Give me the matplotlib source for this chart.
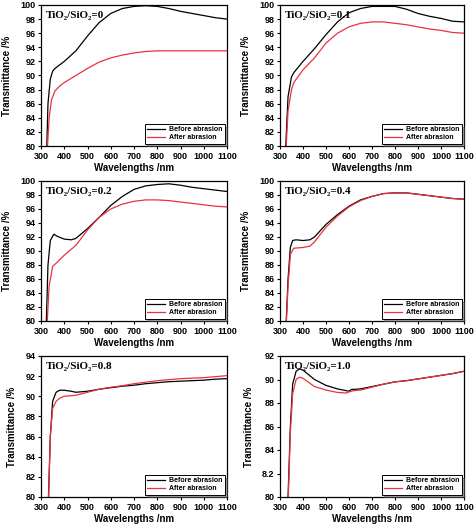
import matplotlib
matplotlib.use('Agg')
import matplotlib.pyplot as plt

plt.rcParams['font.family'] = ['Liberation Sans', 'DejaVu Sans']
plt.rcParams['font.weight'] = 'bold'

# ---- data ----
titles = ['TiO₂/SiO₂=0', 'TiO₂/SiO₂=0.1', 'TiO₂/SiO₂=0.2',
          'TiO₂/SiO₂=0.4', 'TiO₂/SiO₂=0.8', 'TiO₂/SiO₂=1.0']

# 0
wl_b0 = [325, 330, 340, 350, 360, 380, 400, 450, 500, 550, 600, 650, 700, 750, 800, 850, 900, 950, 1000, 1050, 1100]
tb_0 = [80, 86, 89.5, 90.6, 91.0, 91.5, 92.0, 93.5, 95.6, 97.5, 98.8, 99.5, 99.8, 99.9, 99.8, 99.5, 99.1, 98.8, 98.5, 98.2, 98.0]
wl_a0 = [328, 335, 345, 360, 380, 400, 450, 500, 550, 600, 650, 700, 750, 800, 850, 900, 1000, 1100]
ta_0 = [80, 84, 86.5, 87.8, 88.5, 89.0, 90.0, 91.0, 91.9, 92.5, 92.9, 93.2, 93.4, 93.5, 93.5, 93.5, 93.5, 93.5]

# 0.1
wl_b1 = [325, 335, 350, 360, 400, 450, 500, 550, 600, 650, 700, 750, 800, 850, 900, 950, 1000, 1050, 1100]
tb_1 = [80, 87, 89.8, 90.4, 92.0, 93.8, 95.8, 97.6, 98.9, 99.5, 99.8, 99.8, 99.8, 99.4, 98.8, 98.4, 98.1, 97.7, 97.6]
wl_a1 = [327, 335, 350, 360, 400, 450, 500, 550, 600, 650, 700, 750, 800, 850, 900, 950, 1000, 1050, 1100]
ta_1 = [80, 85, 88.0, 89.0, 90.8, 92.5, 94.6, 96.0, 96.9, 97.4, 97.6, 97.6, 97.4, 97.2, 96.9, 96.6, 96.4, 96.1, 96.0]

# 0.2
wl_b2 = [323, 330, 340, 355, 370, 400, 430, 450, 500, 550, 600, 650, 700, 750, 800, 850, 900, 950, 1000, 1050, 1100]
tb_2 = [80, 88, 91.5, 92.4, 92.1, 91.7, 91.6, 91.8, 93.2, 94.8, 96.5, 97.8, 98.8, 99.3, 99.5, 99.6, 99.4, 99.1, 98.9, 98.7, 98.5]
wl_a2 = [327, 335, 350, 370, 400, 450, 500, 550, 600, 650, 700, 750, 800, 850, 900, 950, 1000, 1050, 1100]
ta_2 = [80, 85, 87.8, 88.4, 89.4, 90.8, 93.0, 94.8, 96.0, 96.7, 97.1, 97.3, 97.3, 97.2, 97.0, 96.8, 96.6, 96.4, 96.3]

# 0.4
wl_b4 = [327, 335, 345, 355, 370, 400, 430, 450, 500, 550, 600, 650, 700, 750, 800, 850, 900, 950, 1000, 1050, 1100]
tb_4 = [80, 86, 90.5, 91.5, 91.6, 91.5, 91.6, 92.0, 93.8, 95.2, 96.4, 97.3, 97.8, 98.2, 98.3, 98.3, 98.1, 97.9, 97.7, 97.5, 97.4]
wl_a4 = [328, 335, 345, 360, 400, 430, 450, 500, 550, 600, 650, 700, 750, 800, 850, 900, 950, 1000, 1050, 1100]
ta_4 = [80, 85, 89.5, 90.4, 90.5, 90.7, 91.3, 93.4, 95.0, 96.3, 97.2, 97.8, 98.2, 98.3, 98.3, 98.1, 97.9, 97.7, 97.5, 97.4]

# 0.8
wl_b8 = [332, 340, 350, 365, 380, 400, 430, 450, 500, 550, 600, 650, 700, 750, 800, 850, 900, 950, 1000, 1050, 1100]
tb_8 = [80, 86, 89.5, 90.4, 90.6, 90.6, 90.5, 90.4, 90.5, 90.7, 90.85, 91.0, 91.1, 91.25, 91.35, 91.45, 91.5, 91.55, 91.6, 91.7, 91.75]
wl_a8 = [333, 340, 350, 365, 380, 400, 450, 500, 550, 600, 650, 700, 750, 800, 850, 900, 950, 1000, 1050, 1100]
ta_8 = [80, 86, 88.8, 89.5, 89.8, 90.0, 90.1, 90.4, 90.7, 90.9, 91.05, 91.25, 91.4, 91.55, 91.65, 91.75, 91.8, 91.85, 91.95, 92.05]

# 1.0
wl_b10 = [335, 345, 355, 370, 385, 400, 450, 500, 550, 600, 610, 650, 700, 750, 800, 850, 900, 950, 1000, 1050, 1100]
tb_10 = [80, 86, 89.6, 90.7, 90.9, 90.8, 90.0, 89.5, 89.2, 89.0, 89.15, 89.2, 89.4, 89.6, 89.8, 89.9, 90.05, 90.2, 90.35, 90.5, 90.7]
wl_a10 = [336, 345, 355, 370, 385, 400, 450, 500, 550, 590, 600, 620, 650, 700, 750, 800, 850, 900, 950, 1000, 1050, 1100]
ta_10 = [80, 85.5, 88.8, 90.0, 90.2, 90.1, 89.4, 89.1, 88.9, 88.85, 88.95, 89.05, 89.1, 89.35, 89.6, 89.8, 89.9, 90.05, 90.2, 90.35, 90.5, 90.7]

before = [(wl_b0, tb_0), (wl_b1, tb_1), (wl_b2, tb_2), (wl_b4, tb_4), (wl_b8, tb_8), (wl_b10, tb_10)]
after = [(wl_a0, ta_0), (wl_a1, ta_1), (wl_a2, ta_2), (wl_a4, ta_4), (wl_a8, ta_8), (wl_a10, ta_10)]

xticks = [300, 400, 500, 600, 700, 800, 900, 1000, 1100]
yticks_hi = [80, 82, 84, 86, 88, 90, 92, 94, 96, 98, 100]
yticks_08 = [80, 82, 84, 86, 88, 90, 92, 94]
yticks_10 = [80, 82, 84, 86, 88, 90, 92]
ytl_10 = ['80', '8.2', '84', '86', '88', '90', '92']  # as printed in the source
ylims = [(80, 100)] * 4 + [(80, 94), (80, 92)]

# ---- layout ----
fig = plt.figure(figsize=(4.74, 5.24), dpi=100)
W, H = 474, 524
cols = [(41, 227), (280, 464)]
rows = [(5, 146), (181, 321), (356, 497)]

for i in range(6):
    r, c = divmod(i, 2)
    x0, x1 = cols[c]
    y0, y1 = rows[r]
    ax = fig.add_axes([x0 / W, 1 - y1 / H, (x1 - x0) / W, (y1 - y0) / H])
    ax.plot(*before[i], color='black', lw=0.9, label='Before abrasion')
    ax.plot(*after[i], color='#e8323c', lw=0.9, label='After abrasion')
    ax.set_xlim(300, 1100)
    ax.set_ylim(*ylims[i])
    ax.set_xticks(xticks)
    if i < 4:
        ax.set_yticks(yticks_hi)
    elif i == 4:
        ax.set_yticks(yticks_08)
    else:
        ax.set_yticks(yticks_10)
        ax.set_yticklabels(ytl_10)
    ax.tick_params(direction='out', labelsize=6.5, length=2.5, width=0.8)
    ax.tick_params(axis='x', pad=1.5)
    ax.tick_params(axis='y', pad=1.5)
    for lab in ax.get_xticklabels() + ax.get_yticklabels():
        lab.set_fontweight('bold')
    for sp in ax.spines.values():
        sp.set_linewidth(0.9)
    ax.set_xlabel('Wavelengths /nm', fontsize=7, fontweight='bold', labelpad=2)
    ax.set_ylabel('Transmittance /%', fontsize=7, fontweight='bold', labelpad=6)
    ax.text(0.025, 0.96, titles[i], transform=ax.transAxes, ha='left', va='top',
            fontsize=8, fontweight='bold', family=['Liberation Serif', 'DejaVu Serif'])
    leg = ax.legend(loc='lower right', fontsize=5.0, frameon=True, fancybox=False,
                    shadow=True, handlelength=2.6, borderpad=0.3, labelspacing=0.15,
                    handletextpad=0.6, borderaxespad=0.35)
    leg.get_frame().set_edgecolor('black')
    leg.get_frame().set_linewidth(0.7)
    for t in leg.get_texts():
        t.set_fontweight('bold')

fig.savefig('out.png', dpi=100)
